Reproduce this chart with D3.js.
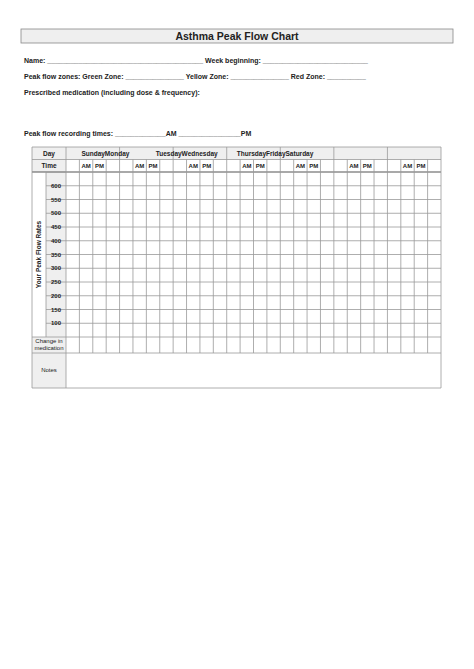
<!DOCTYPE html>
<html><head><meta charset="utf-8">
<script src="https://cdn.jsdelivr.net/npm/d3@7"></script>
<style>body{margin:0;background:#fff}text{font-family:"Liberation Sans",Arial,sans-serif;font-weight:bold;fill:#222}</style>
</head><body><div id="chart"></div>
<script>
const flowRates = [600, 550, 500, 450, 400, 350, 300, 250, 200, 150, 100];
const dayLabels = [{text: "SundayMonday", col: 1.15}, {text: "TuesdayWednesday", col: 6.7}, {text: "ThursdayFridaySaturday", col: 12.75}];
const groups = d3.range(7);
const timeLabels = ["", "AM", "PM", ""];
const formLines = [
  {y: 63, text: "Name: ________________________________________  Week beginning: ___________________________"},
  {y: 79, text: "Peak flow zones: Green Zone: _______________  Yellow Zone: _______________  Red Zone: __________"},
  {y: 95, text: "Prescribed medication (including dose & frequency):"},
  {y: 136, text: "Peak flow recording times: _____________AM ________________PM"}
];

const W = 474, H = 669;
const svg = d3.select("#chart").append("svg").attr("width", W).attr("height", H);
const grey = "#efefef", line = "#999";

// title
svg.append("rect").attr("x", 21).attr("y", 29).attr("width", 432).attr("height", 14)
  .attr("fill", grey).attr("stroke", "#888").attr("stroke-width", 0.8);
svg.append("text").attr("x", 237).attr("y", 40).attr("text-anchor", "middle")
  .attr("font-size", 10.5).text("Asthma Peak Flow Chart");
svg.selectAll("text.form").data(formLines).join("text").attr("class", "form")
  .attr("x", 24).attr("y", d => d.y).attr("font-size", 7).text(d => d.text);

// table geometry
const left = 32, labelW = 14, valW = 20, right = 441;
const gridX0 = left + labelW + valW;
const x = d3.scaleLinear().domain([0, 28]).range([gridX0, right]);
const yDay = 147, yTime = 159.5, yGrid = 172, yRates = 337, yChange = 353, yEnd = 388;
const y = d3.scaleLinear().domain([0, 12]).range([yGrid, yRates]);

// grey cells
svg.append("rect").attr("x", left).attr("y", yDay).attr("width", labelW + valW).attr("height", yGrid - yDay).attr("fill", grey);
svg.append("rect").attr("x", left + labelW).attr("y", yGrid).attr("width", valW).attr("height", yRates - yGrid).attr("fill", grey);
svg.append("rect").attr("x", left).attr("y", yRates).attr("width", labelW + valW).attr("height", yEnd - yRates).attr("fill", grey);
svg.selectAll("rect.dayg").data(groups).join("rect").attr("class", "dayg")
  .attr("x", g => x(g * 4)).attr("y", yDay).attr("width", x(4) - x(0)).attr("height", yTime - yDay).attr("fill", grey);

const g = svg.append("g").attr("stroke", line).attr("stroke-width", 0.8);
// horizontal lines
[yDay, yTime, yChange, yEnd].forEach(v => g.append("line").attr("x1", left).attr("x2", right).attr("y1", v).attr("y2", v));
g.append("line").attr("x1", left).attr("x2", right).attr("y1", yGrid).attr("y2", yGrid).attr("stroke", "#555").attr("stroke-width", 1.2);
g.append("line").attr("x1", left).attr("x2", right).attr("y1", yRates).attr("y2", yRates);
g.selectAll("line.h").data(d3.range(1, 12)).join("line").attr("class", "h")
  .attr("x1", left + labelW).attr("x2", right).attr("y1", d => y(d)).attr("y2", d => y(d));
// vertical lines
g.selectAll("line.v").data(d3.range(1, 28)).join("line").attr("class", "v")
  .attr("x1", d => x(d)).attr("x2", d => x(d))
  .attr("y1", d => d % 4 === 0 ? yDay : yTime).attr("y2", yChange);
[left, gridX0, right].forEach(v => g.append("line").attr("x1", v).attr("x2", v).attr("y1", yDay).attr("y2", yEnd));
g.append("line").attr("x1", left + labelW).attr("x2", left + labelW).attr("y1", yGrid).attr("y2", yRates);

// labels
svg.append("text").attr("x", (left + gridX0) / 2).attr("y", 156).attr("text-anchor", "middle").attr("font-size", 6.5).text("Day");
svg.append("text").attr("x", (left + gridX0) / 2).attr("y", 168).attr("text-anchor", "middle").attr("font-size", 6.5).text("Time");
svg.selectAll("text.day").data(dayLabels).join("text").attr("class", "day")
  .attr("x", d => x(d.col)).attr("y", 156).attr("font-size", 6.5).text(d => d.text);
const times = groups.flatMap(gi => timeLabels.map((t, i) => ({t, c: gi * 4 + i}))).filter(d => d.t);
svg.selectAll("text.time").data(times).join("text").attr("class", "time")
  .attr("x", d => x(d.c + 0.5)).attr("y", 168).attr("text-anchor", "middle").attr("font-size", 6).text(d => d.t);
svg.selectAll("text.rate").data(flowRates).join("text").attr("class", "rate")
  .attr("x", left + labelW + valW / 2).attr("y", (d, i) => y(i + 1) + 2).attr("text-anchor", "middle")
  .attr("font-size", 6).text(d => d);
svg.append("text").attr("transform", `translate(${left + labelW / 2 + 2},${(yGrid + yRates) / 2}) rotate(-90)`)
  .attr("text-anchor", "middle").attr("font-size", 6.5).text("Your Peak Flow Rates");
svg.append("text").attr("x", (left + gridX0) / 2).attr("y", 343).attr("text-anchor", "middle").attr("font-size", 6)
  .style("font-weight", "normal").text("Change in");
svg.append("text").attr("x", (left + gridX0) / 2).attr("y", 350).attr("text-anchor", "middle").attr("font-size", 6)
  .style("font-weight", "normal").text("medication");
svg.append("text").attr("x", (left + gridX0) / 2).attr("y", 372).attr("text-anchor", "middle").attr("font-size", 6)
  .style("font-weight", "normal").text("Notes");
</script></body></html>
